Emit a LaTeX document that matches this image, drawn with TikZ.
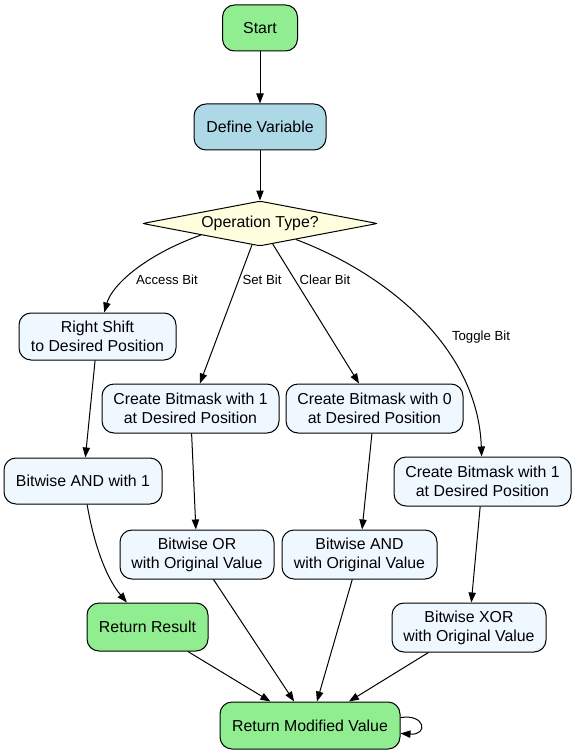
\documentclass[tikz,border=0pt]{standalone}
\usepackage{fontspec}
\setmainfont{Liberation Sans}
\usetikzlibrary{shapes.geometric,arrows.meta}
\definecolor{startgreen}{HTML}{90EE90}
\definecolor{defblue}{HTML}{ADD8E6}
\definecolor{decyellow}{HTML}{FFFFE0}
\definecolor{stepblue}{HTML}{F0F8FF}
\tikzset{
  box/.style={draw=black, line width=0.75pt, rounded corners=9pt, align=center, inner sep=0pt,
    font=\fontsize{11.9}{14.25}\selectfont},
  greenbox/.style={box, fill=startgreen},
  stepbox/.style={box, fill=stepblue},
  decbox/.style={draw=black, line width=0.75pt, diamond, aspect=5.2, inner sep=0pt, fill=decyellow,
    rounded corners=1.5pt, font=\fontsize{11.9}{14.25}\selectfont,
    minimum width=176.25pt, minimum height=33.75pt},
  arr/.style={draw=black, line width=0.75pt, -{Triangle[length=7.5pt,width=5.5pt]}},
  elabel/.style={font=\fontsize{9.9}{11}\selectfont, inner sep=1pt}
}
\begin{document}
\begin{tikzpicture}[x=0.75pt,y=-0.75pt]
\useasboundingbox (0,0) rectangle (577,756);
\node[greenbox, minimum width=56.25pt, minimum height=34.5pt] (start) at (260,28) {Start};
\node[box, fill=defblue, minimum width=99pt, minimum height=34.5pt] (def) at (260,127) {Define Variable};
\node[decbox] (op) at (260,223.5) {Operation Type?};
\node[stepbox, minimum width=117.75pt, minimum height=35.25pt] (rs) at (97.5,336.5) {Right Shift\\to Desired Position};
\node[stepbox, minimum width=132.75pt, minimum height=36.75pt] (cbl) at (190.5,408.5) {Create Bitmask with 1\\at Desired Position};
\node[stepbox, minimum width=132.75pt, minimum height=36.75pt] (cbz) at (374.5,408.5) {Create Bitmask with 0\\at Desired Position};
\node[stepbox, minimum width=132.75pt, minimum height=36.75pt] (cbr) at (482.5,481.5) {Create Bitmask with 1\\at Desired Position};
\node[stepbox, minimum width=118.5pt, minimum height=34.5pt] (andone) at (83,481) {Bitwise AND with 1};
\node[stepbox, minimum width=115.5pt, minimum height=36.75pt] (bor) at (197,554.5) {Bitwise OR\\with Original Value};
\node[stepbox, minimum width=116.25pt, minimum height=36.75pt] (band) at (359.5,554.5) {Bitwise AND\\with Original Value};
\node[greenbox, minimum width=90.75pt, minimum height=36pt] (rr) at (147.5,627) {Return Result};
\node[stepbox, minimum width=115.5pt, minimum height=36.75pt] (bxor) at (469,627.5) {Bitwise XOR\\with Original Value};
\node[greenbox, minimum width=135pt, minimum height=35.25pt] (rmv) at (310,725.5) {Return Modified Value};

\draw[arr] (start) -- (def);
\draw[arr] (def) -- (op);
\draw[arr] (op.south west) .. controls (145,255) and (112,285) .. (rs);
\node[elabel] (lacc) at (167,279.5) {Access Bit};
\draw[arr] (op) -- (cbl);
\node[elabel] (lset) at (262,279.5) {Set Bit};
\draw[arr] (op) -- (cbz);
\node[elabel] (lclr) at (325,279.5) {Clear Bit};
\draw[arr] (op.-24) .. controls (390,275) and (478,350) .. (cbr);
\node[elabel] (ltog) at (481,337) {Toggle Bit};
\draw[arr] (rs) -- (andone);
\draw[arr] (andone) .. controls (95,550) and (108,580) .. (rr);
\draw[arr] (cbl) -- (bor);
\draw[arr] (cbz) -- (band);
\draw[arr] (cbr) -- (bxor);
\draw[arr] (bor) -- (rmv);
\draw[arr] (band) -- (rmv);
\draw[arr] (rr) -- (rmv);
\draw[arr] (bxor) -- (rmv);
\draw[arr] (rmv.5) .. controls +(25,-4) and +(28,2) .. (rmv.-5);
\end{tikzpicture}
\end{document}
